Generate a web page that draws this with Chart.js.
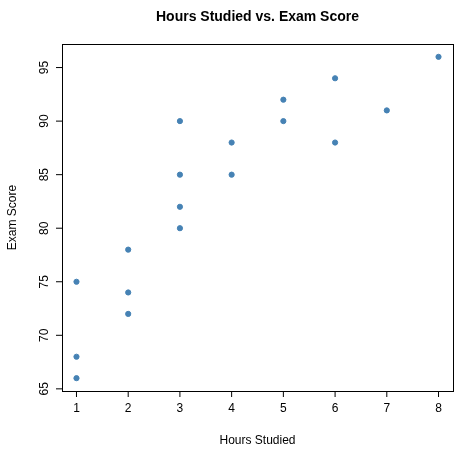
<!DOCTYPE html>
<html><head><script src="https://cdn.jsdelivr.net/npm/chart.js@4"></script>
<style>html,body{margin:0;padding:0;background:#fff}#w{width:474px;height:462px}</style></head>
<body><div id="w"><canvas id="c"></canvas></div>
<script>
const hours=[1,1,1,2,2,2,3,3,3,3,4,4,5,5,6,6,7,8];
const scores=[75,68,66,78,74,72,90,85,82,80,88,85,92,90,94,88,91,96];
const xTicks=[1,2,3,4,5,6,7,8];
const yTicks=[65,70,75,80,85,90,95];
const FONT='"Liberation Sans", Arial, sans-serif';
const deco={id:'deco',afterDraw(ch){
 const c=ch.ctx,a=ch.chartArea,x=ch.scales.x,y=ch.scales.y;
 c.save();c.strokeStyle='#000';c.lineWidth=1;
 c.strokeRect(a.left+0.5,a.top+0.5,a.right-a.left,a.bottom-a.top);
 c.fillStyle='#000';c.textAlign='center';c.textBaseline='middle';
 c.font='bold 14px '+FONT;c.fillText('Hours Studied vs. Exam Score',(a.left+a.right)/2,17);
 c.font='12px '+FONT;
 xTicks.forEach(v=>{const p=x.getPixelForValue(v);c.beginPath();c.moveTo(p,a.bottom);c.lineTo(p,a.bottom+6);c.stroke();c.fillText(String(v),p,409);});
 c.fillText('Hours Studied',(a.left+a.right)/2,441);
 yTicks.forEach(v=>{const p=y.getPixelForValue(v);c.beginPath();c.moveTo(a.left,p);c.lineTo(a.left-6,p);c.stroke();
  c.save();c.translate(45,p);c.rotate(-Math.PI/2);c.fillText(String(v),0,0);c.restore();});
 c.save();c.translate(13,(a.top+a.bottom)/2);c.rotate(-Math.PI/2);c.fillText('Exam Score',0,0);c.restore();
 c.restore();}};
new Chart(document.getElementById('c'),{type:'scatter',
 data:{datasets:[{data:hours.map((h,i)=>({x:h,y:scores[i]})),backgroundColor:'#4682B4',borderColor:'#4682B4',pointRadius:2.6,pointHoverRadius:2.6}]},
 options:{responsive:true,maintainAspectRatio:false,animation:false,events:[],
  layout:{padding:{top:44,right:21,left:0,bottom:0}},
  plugins:{legend:{display:false},tooltip:{enabled:false},title:{display:false}},
  scales:{
   x:{type:'linear',min:0.72,max:8.28,grid:{display:false},border:{display:false},ticks:{display:false},afterFit(s){s.height=71;}},
   y:{type:'linear',min:64.8,max:97.2,grid:{display:false},border:{display:false},ticks:{display:false},afterFit(s){s.width=62;}}
  }},plugins:[deco]});
</script></body></html>
